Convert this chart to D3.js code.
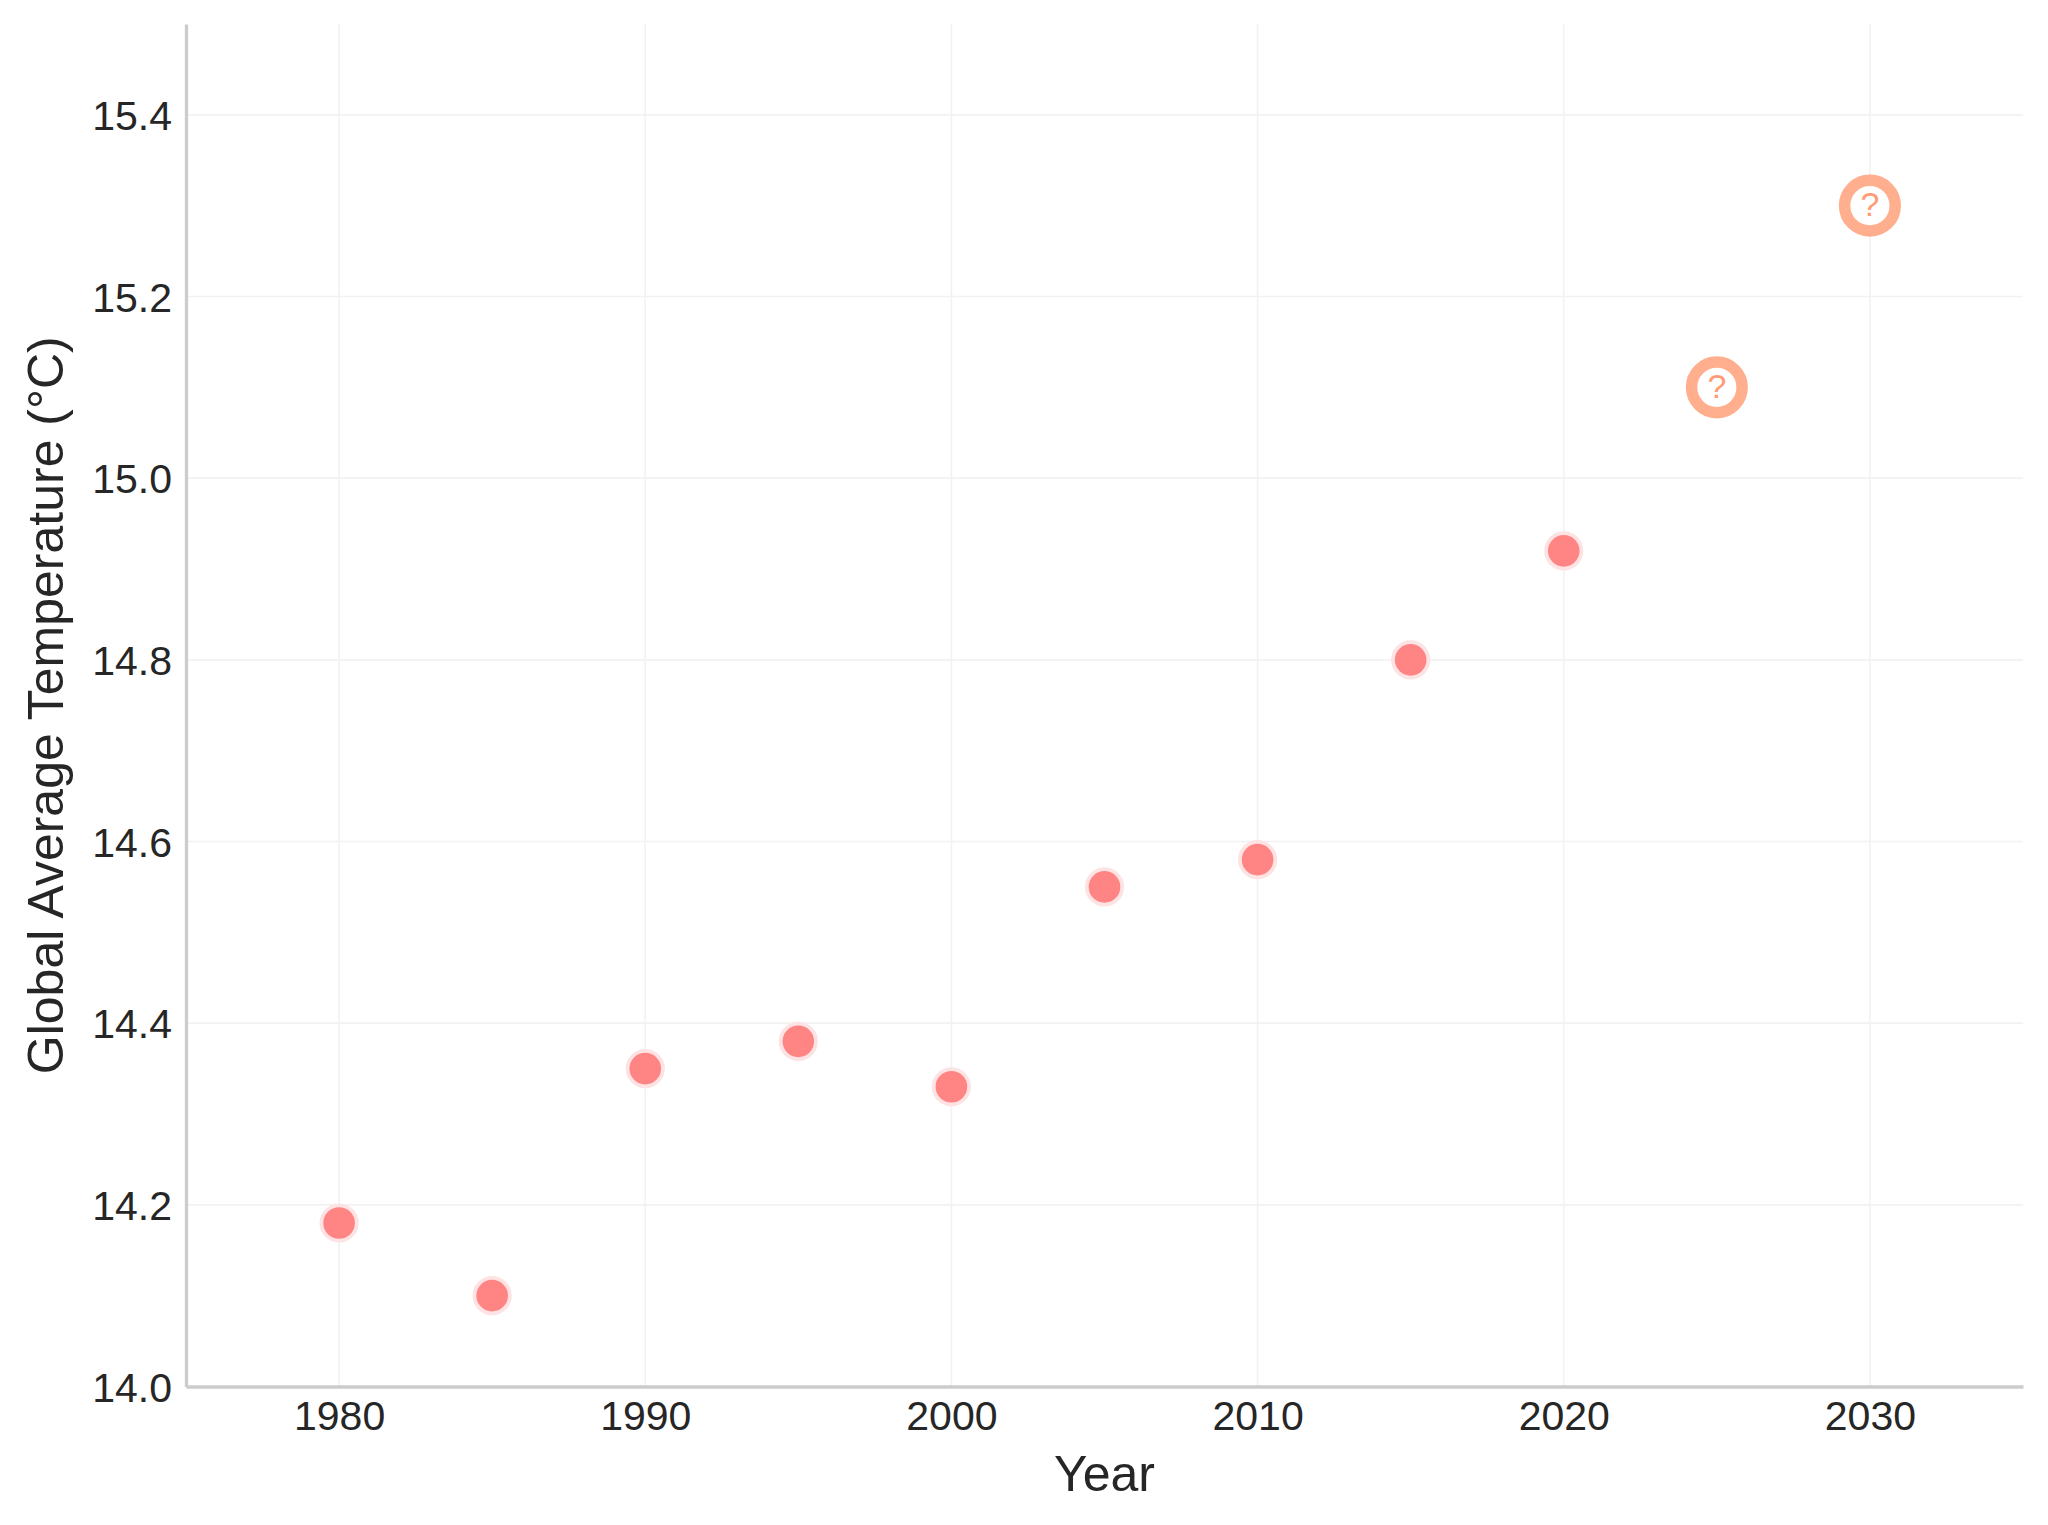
<!DOCTYPE html>
<html>
<head>
<meta charset="utf-8">
<script src="https://cdn.jsdelivr.net/npm/d3@7"></script>
<style>
  body { margin: 0; background: #fff; }
  text { font-family: "Liberation Sans", Arial, sans-serif; }
</style>
</head>
<body>
<svg id="chart"></svg>
<script>
const years = [1980, 1985, 1990, 1995, 2000, 2005, 2010, 2015, 2020];
const temps = [14.18, 14.10, 14.35, 14.38, 14.33, 14.55, 14.58, 14.80, 14.92];
const predYears = [2025, 2030];
const predTemps = [15.1, 15.3];
const xTicks = [1980, 1990, 2000, 2010, 2020, 2030];
const yTicks = [14.0, 14.2, 14.4, 14.6, 14.8, 15.0, 15.2, 15.4];

const width = 2048, height = 1525;
const margin = {top: 24, left: 186, right: 25, bottom: 138.5};

const svg = d3.select("#chart")
  .attr("width", width)
  .attr("height", height);

const x = d3.scaleLinear().domain([1975, 2035]).range([margin.left, width - margin.right]);
const y = d3.scaleLinear().domain([14.0, 15.5]).range([height - margin.bottom, margin.top]);

// grid
const grid = svg.append("g");
grid.selectAll("line.gx")
  .data(xTicks)
  .enter()
  .append("line")
  .attr("x1", d => x(d)).attr("x2", d => x(d))
  .attr("y1", y.range()[1]).attr("y2", y.range()[0])
  .attr("stroke", "#f2f2f2")
  .attr("stroke-width", 1.6);
grid.selectAll("line.gy")
  .data(yTicks)
  .enter()
  .append("line")
  .attr("x1", x.range()[0]).attr("x2", x.range()[1])
  .attr("y1", d => y(d)).attr("y2", d => y(d))
  .attr("stroke", "#f2f2f2")
  .attr("stroke-width", 1.6);

// axes
const xAxis = svg.append("g")
  .attr("transform", `translate(0,${y.range()[0]})`)
  .call(d3.axisBottom(x).tickValues(xTicks).tickFormat(d3.format("d")).tickSize(0).tickPadding(14));
const yAxis = svg.append("g")
  .attr("transform", `translate(${x.range()[0]},0)`)
  .call(d3.axisLeft(y).tickValues(yTicks).tickFormat(d3.format(".1f")).tickSize(0).tickPadding(14));

[xAxis, yAxis].forEach(a => {
  a.select(".domain").attr("stroke", "#cccccc").attr("stroke-width", 3.3);
  a.selectAll("text")
    .attr("font-family", "'Liberation Sans', Arial, sans-serif")
    .attr("font-size", 41)
    .attr("fill", "#262626");
});
xAxis.selectAll("text").attr("dy", "0.72em");
yAxis.selectAll("text").attr("dy", "0.36em");

// titles
svg.append("text")
  .attr("x", (x.range()[0] + x.range()[1]) / 2)
  .attr("y", 1491)
  .attr("text-anchor", "middle")
  .attr("font-size", 50)
  .attr("fill", "#262626")
  .text("Year");
svg.append("text")
  .attr("transform", `translate(63,${(y.range()[0] + y.range()[1]) / 2}) rotate(-90)`)
  .attr("text-anchor", "middle")
  .attr("font-size", 50)
  .attr("fill", "#262626")
  .text("Global Average Temperature (°C)");

// observed points
svg.append("g")
  .selectAll("circle")
  .data(years.map((d, i) => ({year: d, temp: temps[i]})))
  .enter()
  .append("circle")
  .attr("cx", d => x(d.year))
  .attr("cy", d => y(d.temp))
  .attr("r", 17.7)
  .attr("fill", "#ff8585")
  .attr("stroke", "#fde3e3")
  .attr("stroke-width", 3.8);

// predicted points
const pred = svg.append("g")
  .selectAll("g")
  .data(predYears.map((d, i) => ({year: d, temp: predTemps[i]})))
  .enter()
  .append("g")
  .attr("transform", d => `translate(${x(d.year)},${y(d.temp)})`);
pred.append("circle")
  .attr("r", 25.3)
  .attr("fill", "#ffffff")
  .attr("stroke", "#ffa07a")
  .attr("stroke-opacity", 0.85)
  .attr("stroke-width", 11.5);
pred.append("text")
  .attr("text-anchor", "middle")
  .attr("dy", "0.3em")
  .attr("font-size", 34)
  .attr("fill", "#ff9c76")
  .text("?");
</script>
</body>
</html>
